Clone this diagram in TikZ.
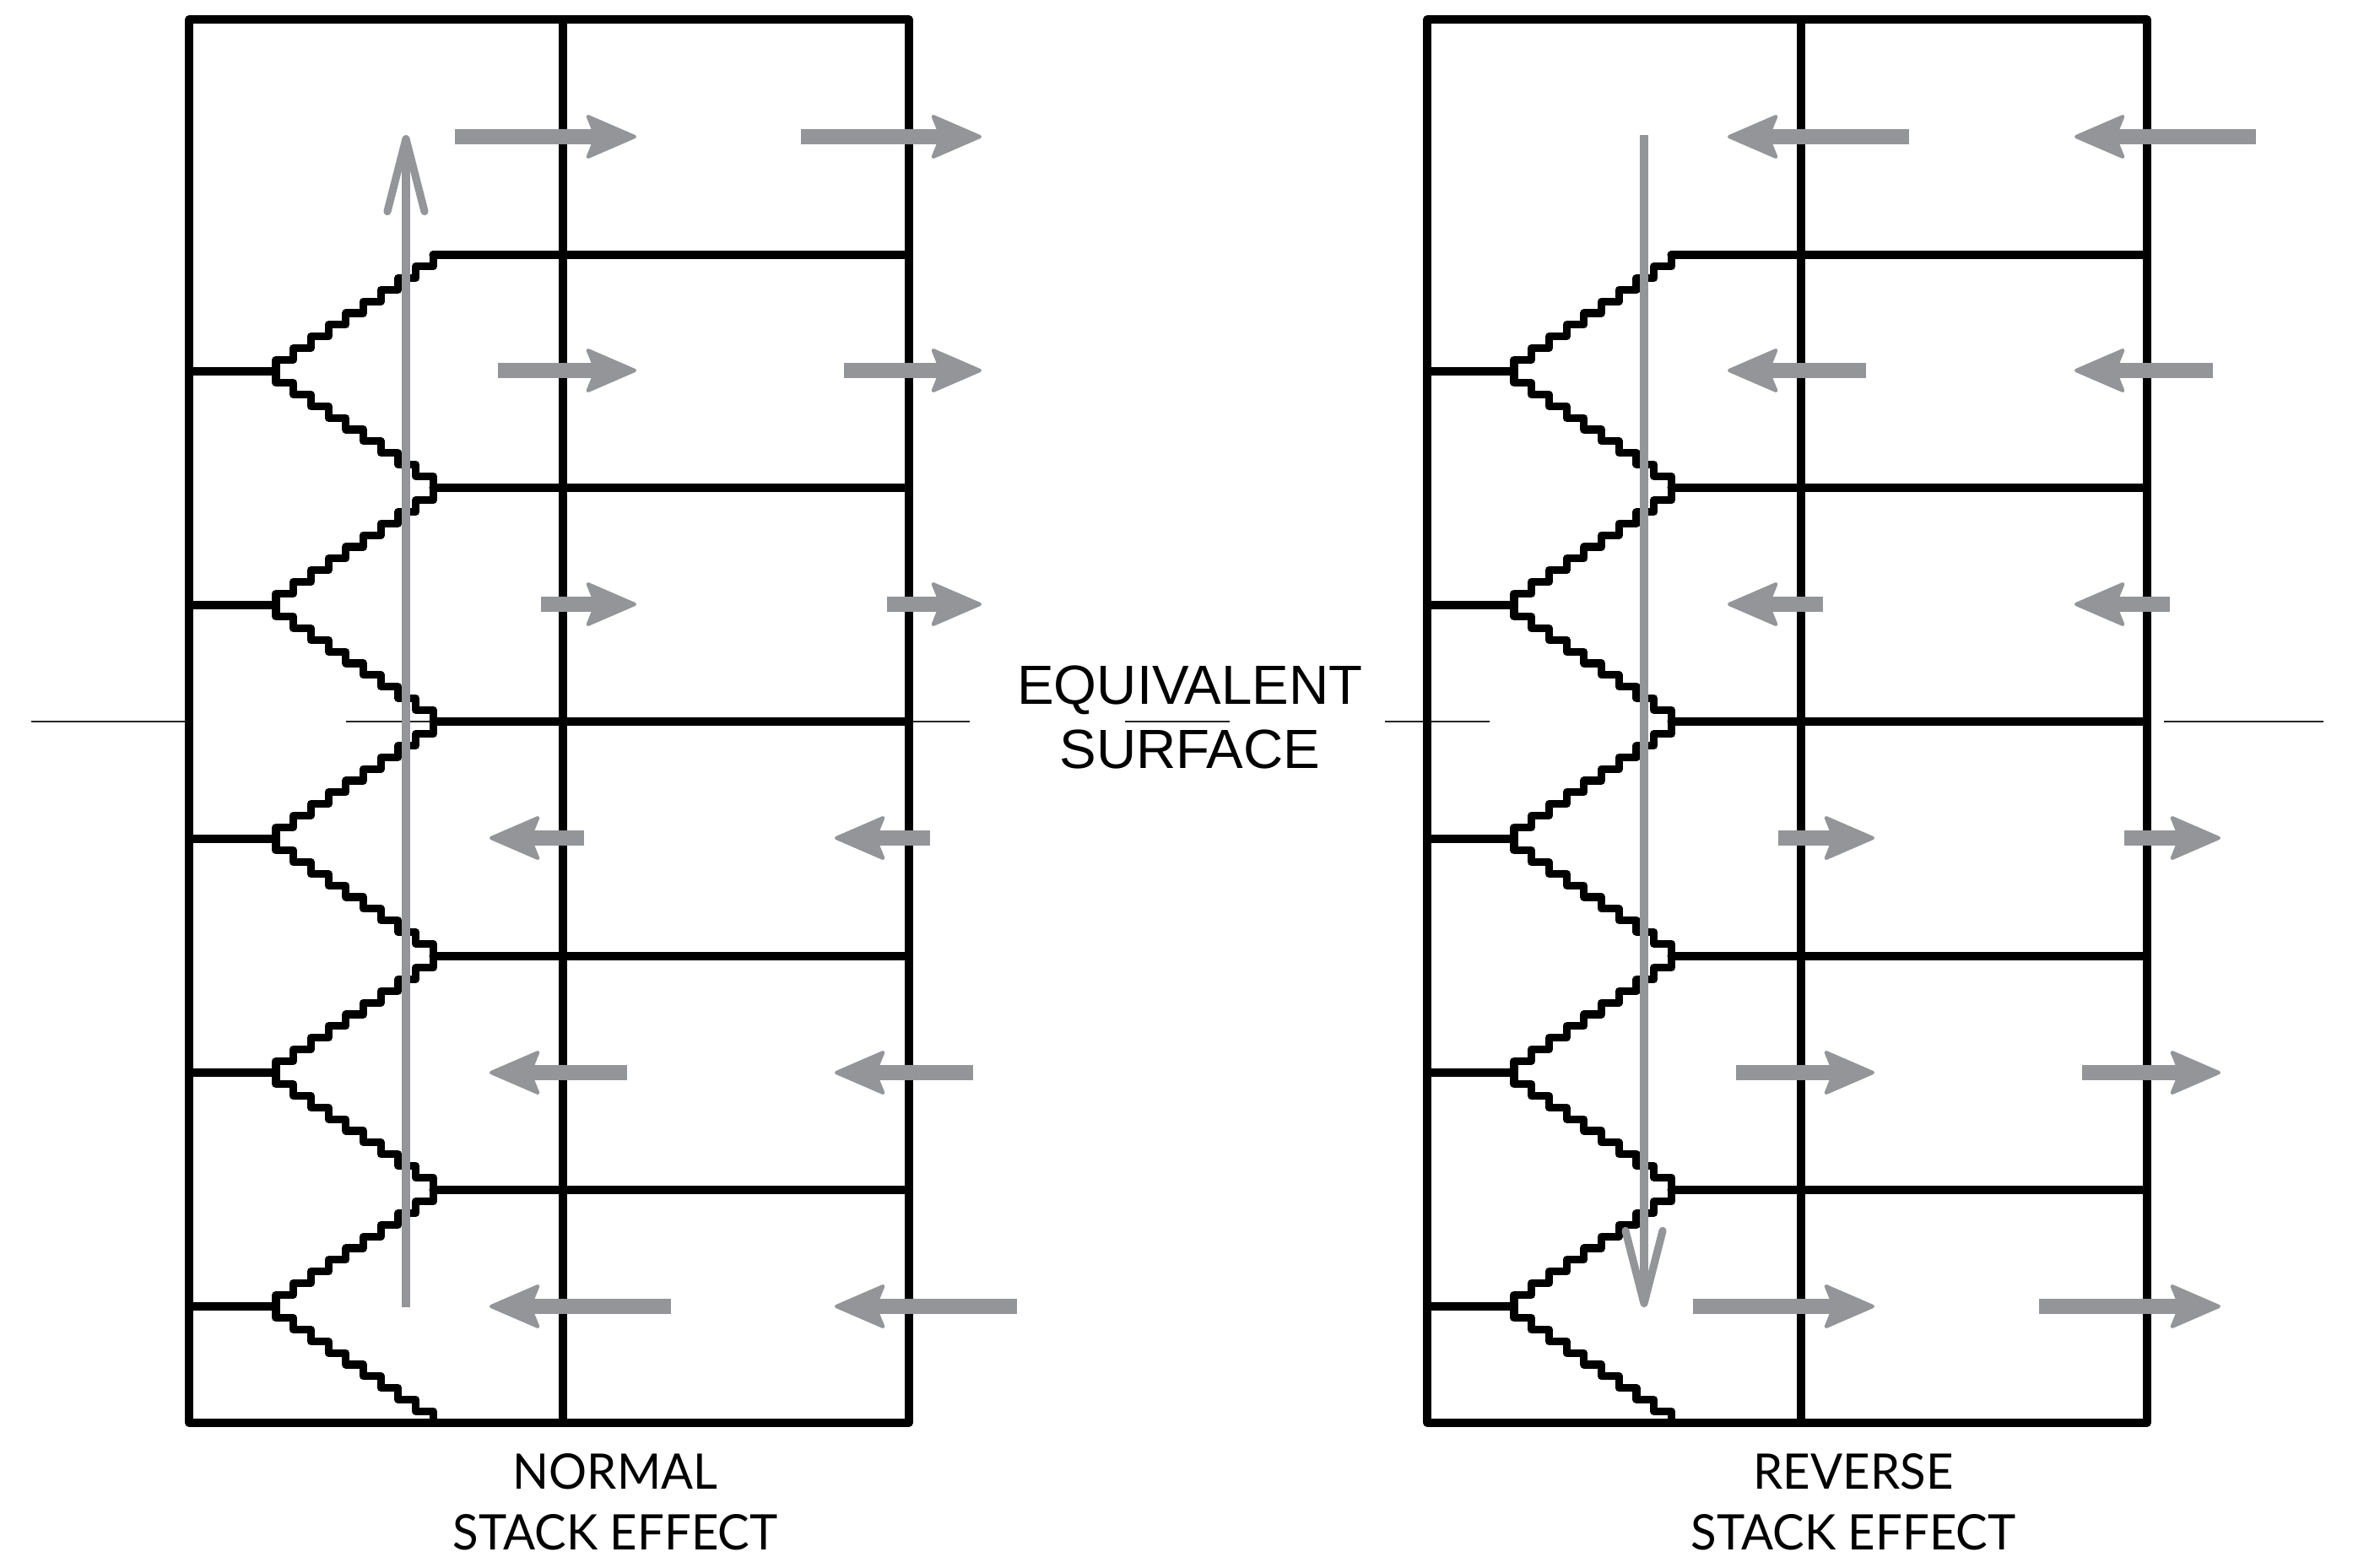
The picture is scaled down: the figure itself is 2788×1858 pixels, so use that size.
\documentclass[tikz,border=0pt]{standalone}
\usepackage{fontspec}
\setmainfont{Liberation Sans}
\newfontfamily\labelfont[FakeStretch=0.97]{Lato}
\usetikzlibrary{arrows.meta}

\begin{document}
\begin{tikzpicture}[
  x=0.01cm, y=-0.01cm,
  wall/.style={line width=2.6pt, line join=round, line cap=round},
  surface/.style={line width=0.5pt, black!85},
  flow/.style={draw=flowgray, line width=5pt,
    -{Stealth[length=0.64cm, width=0.55cm, inset=0.11cm, line width=1.2pt, round]}},
  shaft/.style={draw=flowgray, line width=2.6pt,
    -{Straight Barb[length=0.86cm, width=0.44cm, round]}},
  caption/.style={align=center, font=\labelfont\fontsize{16.5}{20.4}\selectfont, inner sep=0pt},
  title/.style={align=center, font=\fontsize{18.6}{21.6}\selectfont, inner sep=0pt}
]
\definecolor{flowgray}{RGB}{147,149,152}
\useasboundingbox (0,0) rectangle (2788,1858);

% equivalent surface
\draw[surface] (37,855) -- (224,855);
\draw[surface] (410,855) -- (1149,855);
\draw[surface] (1333,855) -- (1457,855);
\draw[surface] (1641,855) -- (1765,855);
\draw[surface] (2564,855) -- (2753,855);

% the two buildings
\foreach \px in {224,1691} {
  \draw[wall] (\px,23) rectangle (\px+853,1686);
  \draw[wall] (\px+443,23) -- (\px+443,1686);
  \foreach \fy in {302,578,855,1133,1410}
    \draw[wall] (\px+289,\fy) -- (\px+853,\fy);
  \foreach \ly in {440,717,994,1271,1548} {
    \draw[wall] (\px,\ly) -- (\px+103,\ly);
    % upper and lower flight of stairs
    \draw[wall] (\px+103,\ly) \foreach \s in {1,...,9} {-- ++(0,-13.8) -- ++(20.7,0)} -- ++(0,-13.8);
    \draw[wall] (\px+103,\ly) \foreach \s in {1,...,9} {-- ++(0,13.8) -- ++(20.7,0)} -- ++(0,13.8);
  }
}

% pressure arrows, normal
\foreach \ay/\ax in {162/539,439/590,716/641} {
  \draw[flow] (\ax,\ay) -- (754,\ay);
  \draw[flow] (\ax+410,\ay) -- (1163,\ay);
}
\foreach \ay/\ax in {993/692,1271/743,1548/795} {
  \draw[flow] (\ax,\ay) -- (580,\ay);
  \draw[flow] (\ax+410,\ay) -- (989,\ay);
}
% pressure arrows, reverse
\foreach \ay/\ax in {162/2262,439/2211,716/2160} {
  \draw[flow] (\ax,\ay) -- (2047,\ay);
  \draw[flow] (\ax+411,\ay) -- (2458,\ay);
}
\foreach \ay/\ax in {993/2107,1271/2057,1548/2006} {
  \draw[flow] (\ax,\ay) -- (2221,\ay);
  \draw[flow] (\ax+410,\ay) -- (2631,\ay);
}

% shaft air
\coordinate (nb) at (481,1549);
\coordinate (nt) at (481,160);
\coordinate (rt) at (1948,160);
\coordinate (rb) at (1948,1549);
\draw[shaft] (nb) -- (nt);
\draw[shaft] (rt) -- (rb);

\node[title] (eq) at (1410,850) {EQUIVALENT\\SURFACE};
\node[caption] (normal) at (729,1780) {NORMAL\\STACK EFFECT};
\node[caption] (reverse) at (2196,1780) {REVERSE\\STACK EFFECT};
\end{tikzpicture}
\end{document}
